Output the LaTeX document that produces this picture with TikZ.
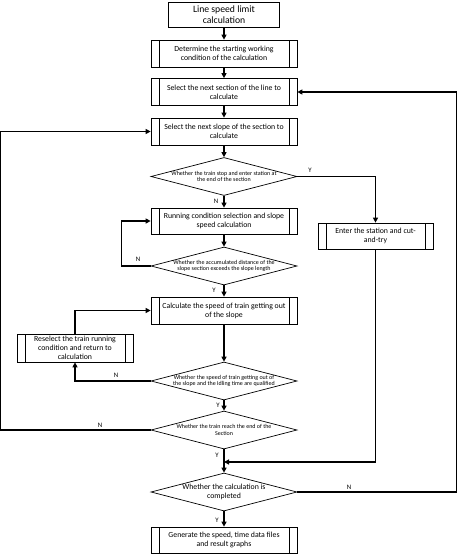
\documentclass[tikz,border=0pt]{standalone}
\usepackage{fontspec}
\setmainfont{Carlito}
\usetikzlibrary{shapes.geometric,arrows.meta}

\begin{document}
\begin{tikzpicture}
  [x=1pt,y=-1pt,line width=.7pt,>={Triangle[length=5pt,width=5pt]},
   every node/.style={draw,align=center,inner sep=0pt,font=\fontsize{7.8}{9}\selectfont},
   proc/.style={minimum width=146pt,minimum height=27pt,
     path picture={\draw ([xshift=8pt]path picture bounding box.north west) -- ([xshift=8pt]path picture bounding box.south west)
       ([xshift=-8pt]path picture bounding box.north east) -- ([xshift=-8pt]path picture bounding box.south east);}},
   test/.style={diamond,aspect=3.85,minimum width=146pt,minimum height=38pt,inner xsep=-14pt,inner ysep=0pt,font=\fontsize{6}{6.6}\selectfont},
   flow/.style={->,line width=1.2pt},
   yn/.style={draw=none,font=\fontsize{6.8}{7}\selectfont}]
  \useasboundingbox (0,0) rectangle (458,555);
  \node[minimum width=111pt,minimum height=25pt,font=\fontsize{9.7}{11.5}\selectfont] (n1) at (224,14.5) {Line speed limit\\calculation};
  \node[proc] (n2) at (224,53.5) {Determine the starting working\\condition of the calculation};
  \node[proc] (n3) at (224,92) {Select the next section of the line to\\calculate};
  \node[proc] (n4) at (224,131.5) {Select the next slope of the section to\\calculate};
  \node[test] (d1) at (224,176.5) {Whether the train stop and enter station at\\the end of the section};
  \node[proc,minimum height=26pt] (n5) at (224,221) {Running condition selection and slope\\speed calculation};
  \node[test] (d2) at (224,266) {Whether the accumulated distance of the\\slope section exceeds the slope length};
  \node[proc] (n6) at (224,310.5) {Calculate the speed of train getting out\\of the slope};
  \node[proc,minimum width=116pt,minimum height=28pt] (n7) at (75,348) {Reselect the train running\\condition and return to\\calculation};
  \node[test] (d3) at (224,381) {Whether the speed of train getting out of\\the slope and the Idling time are qualified};
  \node[test] (d4) at (224,430) {Whether the train reach the end of the\\Section};
  \node[test,font=\fontsize{7.8}{9.5}\selectfont] (d5) at (224,492) {Whether the calculation is\\completed};
  \node[proc,minimum width=115pt,minimum height=26pt] (n8) at (375.5,236) {Enter the station and cut-\\and-try};
  \node[proc,minimum height=26pt] (n9) at (224,540) {Generate the speed, time data files\\and result graphs};
  \coordinate (m1) at (224,462);

  \foreach \from/\to in {n1/n2,n2/n3,n3/n4,n4/d1,d1/n5,n5/d2,d2/n6,n6/d3,d3/d4,d4/d5,d5/n9}
    \draw[flow] (\from) -- (\to);
  \draw[flow] (d1.east) -| (n8.north);
  \draw[flow] (d2.west) -- ++(-29,0) |- (n5.west);
  \draw[flow] (d3.west) -| (n7.south);
  \draw[flow] (n7.north) |- (n6.west);
  \draw[flow] (d4.west) -- ++(-150,0) |- (n4.west);
  \draw[flow] (n8.south) |- (m1);
  \draw[flow] (d5.east) -- ++(159,0) |- (n3.east);

  \node[yn] (y1) at (310,170) {Y};
  \node[yn] (l1) at (216,201) {N};
  \node[yn] (l2) at (138,259) {N};
  \node[yn] (y2) at (214,290) {Y};
  \node[yn] (l3) at (116,375) {N};
  \node[yn] (y3) at (218,405) {Y};
  \node[yn] (l4) at (100,425) {N};
  \node[yn] (y4) at (217,455) {Y};
  \node[yn] (l5) at (349,487) {N};
  \node[yn] (y5) at (217,520) {Y};
\end{tikzpicture}
\end{document}
